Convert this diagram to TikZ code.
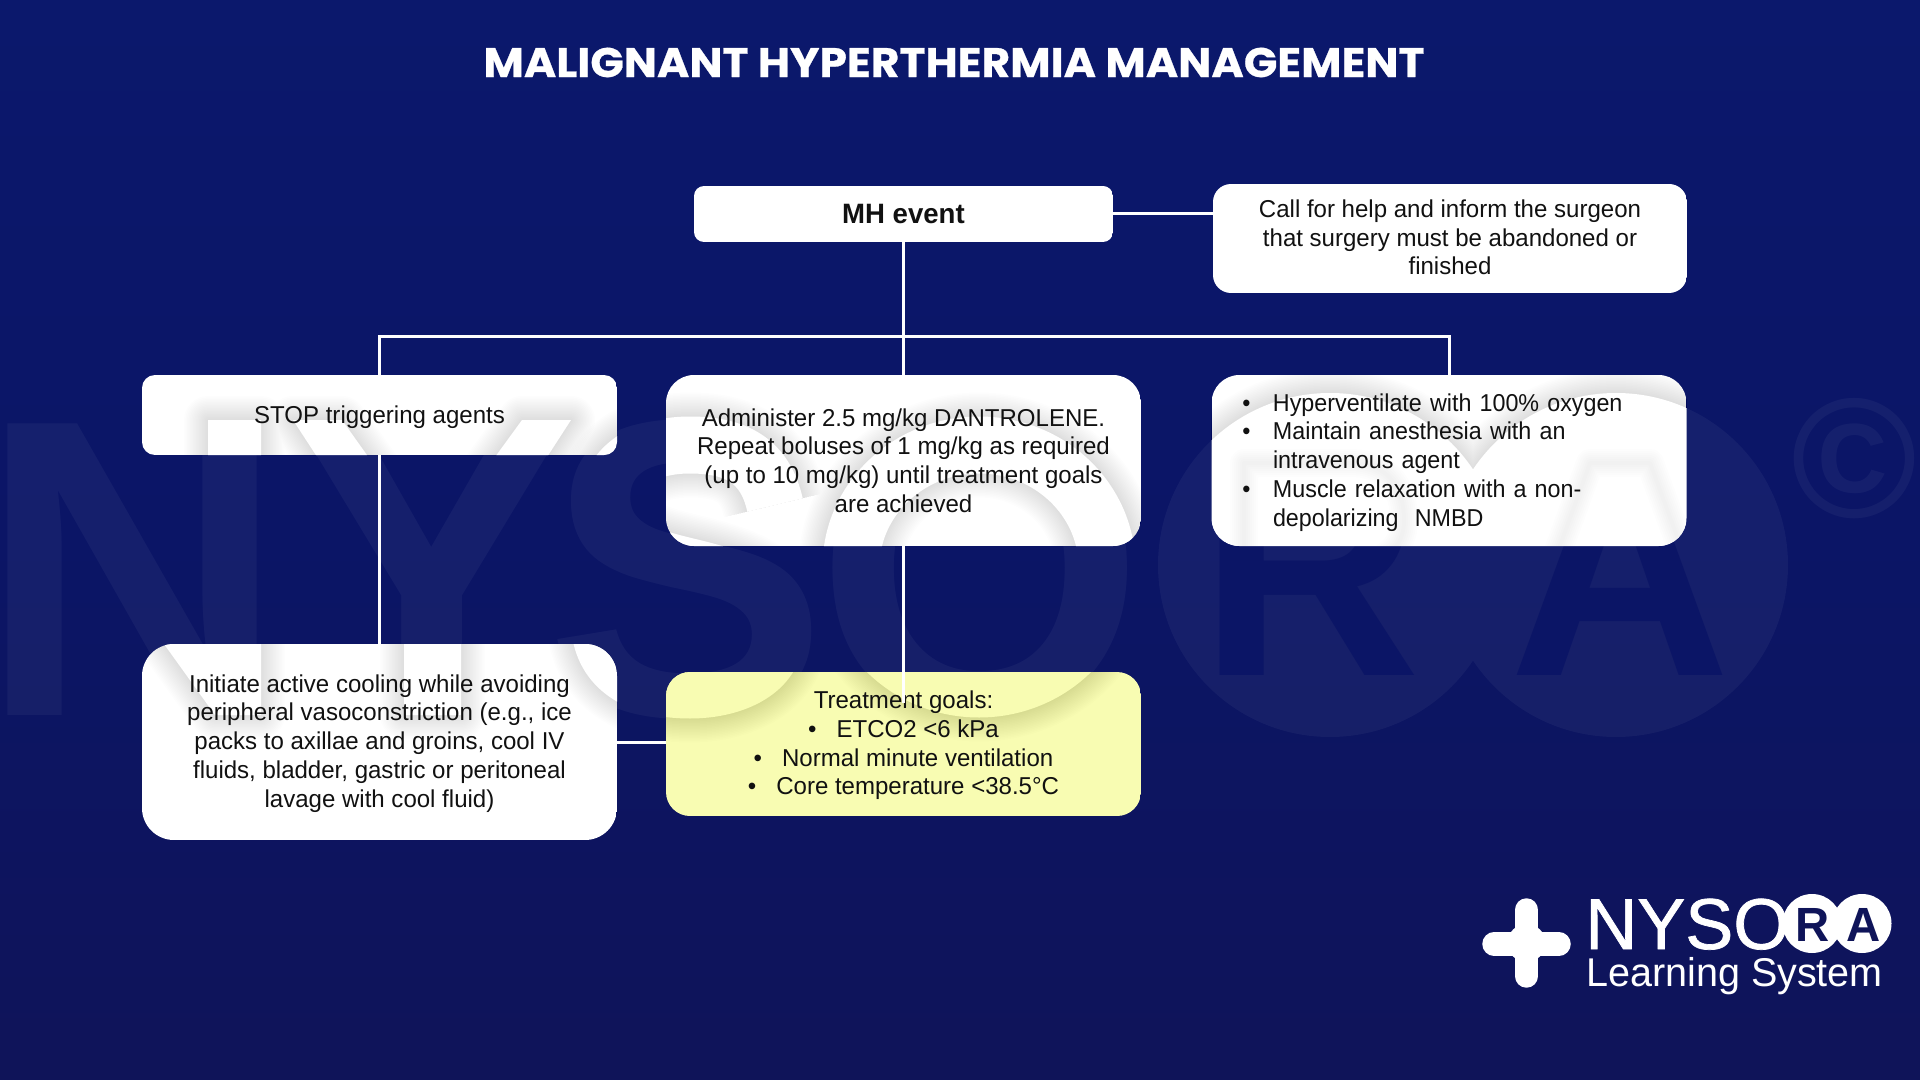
\documentclass[tikz,border=0pt]{standalone}
\usepackage{fontspec}
\setmainfont{Liberation Sans}[FakeStretch=0.985]
\newfontfamily\titlefont{Poppins}[BoldFeatures={FakeStretch=1.065,FakeBold=0.6}]
\newfontfamily\logofont{Liberation Sans}[FakeBold=1]
\newfontfamily\ventfont{Liberation Sans}[FakeStretch=0.955]
\newfontfamily\wmplain{Liberation Sans Bold}
\definecolor{bgtop}{HTML}{0B186C}
\definecolor{bgmid}{HTML}{0B1566}
\definecolor{bgbot}{HTML}{0F1459}
\definecolor{goalfill}{HTML}{F8FCB2}
\definecolor{inktext}{HTML}{111111}
\newcommand{\blt}{\makebox[23pt][l]{•}}
\newcommand{\bln}{\makebox[23pt]{}}
\newcommand{\wmshadow}[1]{%
  \foreach \w in {48,45,42,39,36,33,30,27,24,21,18,15,12,9,6,3}{%
    \draw[wmline,draw=black,opacity=.008,line width=\w*0.75pt,wmpoly];
    \draw[wmline,draw=black,opacity=.008,line width=(57+\w)*0.75pt,wmcurve];
    \draw[wmline,draw=black,opacity=.008,line width=\w*0.75pt,wmdisc];
  }%
  \fill[draw=none,fill=#1,wmpoly];
  \draw[wmline,draw=#1,line width=57*0.75pt,wmcurve];
  \fill[draw=none,fill=#1,wmdisc];
  \foreach \w in {28,24,20,16,12,8,4}{%
    \draw[wmline,draw=black,opacity=.008,line width=\w*0.75pt,wmhole];
  }%
}
% fill of a box with the soft edges of the watermark on it: centre x, centre y, width, height, radius, colour
\newcommand{\panelbg}[6]{%
  \begin{scope}
    \clip[rounded corners=#5*0.75pt] ({#1-#3/2},{#2-#4/2}) rectangle ({#1+#3/2},{#2+#4/2});
    \fill[#6] ({#1-#3/2},{#2-#4/2}) rectangle ({#1+#3/2},{#2+#4/2});
    \wmshadow{#6}
  \end{scope}%
}
\tikzset{
  x=0.75pt,y=-0.75pt,
  wmline/.style={fill=none,line join=round},
  wmpoly/.style={insert path={
    (6,420) -- (52,420) -- (208,640) -- (208,420) -- (261,420) -- (261,715) -- (215,715) -- (57,495) -- (57,715) -- (6,715) -- cycle
    (293,420) -- (342,420) -- (431,545) -- (522,420) -- (571,420) -- (461,590) -- (461,715) -- (404,715) -- (404,590) -- cycle}},
  wmcurve/.style={insert path={
    (775,505) .. controls (765,460) and (735,445) .. (690,445) .. controls (640,445) and (608,470) .. (608,505)
    .. controls (608,545) and (640,555) .. (690,567) .. controls (745,580) and (775,595) .. (775,635)
    .. controls (775,670) and (735,690) .. (690,690) .. controls (640,690) and (605,670) .. (600,630)
    (979,567) ellipse[x radius=128,y radius=122]}},
  wmdisc/.style={insert path={(1330,565) circle[radius=172] (1616,565) circle[radius=172]}},
  wmhole/.style={insert path={
    (1244,463) -- (1350,463) .. controls (1390,463) and (1404,490) .. (1404,520) .. controls (1404,550) and (1385,570) .. (1300,578) -- (1300,675) -- (1244,675) -- cycle
    (1590,463) -- (1650,463) -- (1728,675) -- (1513,675) -- cycle}},
  wmglyph/.style={inner sep=0pt,outer sep=0pt,anchor=base,text=white,text opacity=.045,
    font=\wmplain\fontsize{318}{318}\selectfont},
  wmletter/.style={wmglyph,text=bgmid,text opacity=1,font=\wmplain\fontsize{230}{230}\selectfont},
  wmcopyglyph/.style={wmglyph,font=\wmplain\fontsize{128}{128}\selectfont},
  panel/.style n args={5}{
    at={(#1,#2)},minimum width=#3*0.75pt,minimum height=#4*0.75pt,
    rounded corners=#5*0.75pt,text=inktext,align=center,inner sep=0pt,
    font=\fontsize{18.3}{21.6}\selectfont},
  conn/.style={draw=white,line width=2.25pt},
  titletext/.style={text=white,font=\titlefont\bfseries\fontsize{31}{36}\selectfont,inner sep=0pt},
  logotext/.style={text=white,inner sep=0pt,anchor=base west},
  logolabel/.style={text=bgbot,inner sep=0pt,anchor=base,font=\bfseries\fontsize{36}{36}\selectfont},
}
\begin{document}
\begin{tikzpicture}
\useasboundingbox (0,0) rectangle (1920,1080);
% background
\shade[top color=bgtop,bottom color=bgbot,middle color=bgmid] (0,0) rectangle (1920,1080);
% watermark
\node[wmglyph] (wn) at (133,715) {N};
\node[wmglyph] (wy) at (432,715) {Y};
\node[wmglyph] (ws) at (687,715) {S};
\node[wmglyph] (wo) at (980,715) {O};
\fill[white,opacity=.045] (1330,565) circle[radius=172] (1616,565) circle[radius=172];
\node[wmletter] (wr) at (1310,675) {R};
\node[wmletter] (wa) at (1620,675) {A};
\node[wmcopyglyph] (wc) at (1854,517) {©};
% title
\node[titletext] (title) at (954,62.5) {MALIGNANT HYPERTHERMIA MANAGEMENT};
% box fills
\panelbg{903.5}{214}{419}{56}{10}{white}
\panelbg{1450}{238.5}{474}{109}{18}{white}
\panelbg{379.5}{415}{475}{80}{13}{white}
\panelbg{903.5}{460.5}{475}{171}{28}{white}
\panelbg{1449}{460.5}{475}{171}{28}{white}
\panelbg{379.5}{742}{475}{196}{32}{white}
\panelbg{903.5}{744}{475}{144}{24}{goalfill}
% boxes
\node[panel={903.5}{214}{419}{56}{10},font=\bfseries\fontsize{21}{24}\selectfont] (mh) {MH event};
\node[panel={1450}{238.5}{474}{109}{18}] (call) {Call for help and inform the surgeon\\that surgery must be abandoned or\\finished\rule[-1.8pt]{0pt}{1pt}};
\node[panel={379.5}{415}{475}{80}{13}] (stop) {\rule{0pt}{16pt}STOP triggering agents};
\node[panel={903.5}{460.5}{475}{171}{28}] (dant) {Administer 2.5 mg/kg DANTROLENE.\\Repeat boluses of 1 mg/kg as required\\(up to 10 mg/kg) until treatment goals\\are achieved};
\node[panel={1449}{460.5}{475}{171}{28},align=left,text width=310pt,inner xsep=23pt,font=\ventfont\fontsize{18.3}{21.6}\selectfont] (vent) {\rule{0pt}{16pt}\blt Hyperventilate with 100\% oxygen\\\blt Maintain anesthesia with an\\\bln intravenous agent\\\blt Muscle relaxation with a non-\\\bln depolarizing~ NMBD};
\node[panel={379.5}{742}{475}{196}{32}] (cool) {\rule{0pt}{15.3pt}Initiate active cooling while avoiding\\peripheral vasoconstriction (e.g., ice\\packs to axillae and groins, cool IV\\fluids, bladder, gastric or peritoneal\\lavage with cool fluid)};
\node[panel={903.5}{744}{475}{144}{24}] (goals) {\rule{0pt}{15.3pt}Treatment goals:\\•\hspace{15pt}ETCO2 <6 kPa\\•\hspace{15pt}Normal minute ventilation\\•\hspace{15pt}Core temperature <38.5°C};
% connectors
\coordinate (bus) at (903.5,337);
\coordinate (goalsin) at (903.5,703);
\draw[conn] (mh.east) -- (mh.east -| call.west);
\draw[conn] (mh.south) -- (dant.north);
\draw[conn] (stop.north) |- (bus);
\draw[conn] (vent.north) |- (bus);
\draw[conn] (stop.south) -- (cool.north);
\draw[conn] (dant.south) -- (goalsin);
\draw[conn] (cool.east) -- (cool.east -| goals.west);
% logo
\draw[white,line width=17.6pt,line cap=round] (1526.5,910) -- (1526.5,976);
\draw[white,line width=17.6pt,line cap=round] (1494,944) -- (1559,944);
\fill[white] (1526.5,943) circle[radius=19];
\node[logotext,font=\logofont\fontsize{54}{54}\selectfont] (nyso) at (1585,949) {NYSO};
\fill[white] (1812,923.5) circle[radius=29.5] (1862,923.5) circle[radius=29.5];
\node[logolabel] (lr) at (1813,941) {R};
\node[logolabel] (la) at (1864,941) {A};
\node[logotext,font=\fontsize{30.1}{32}\selectfont] (ls) at (1586,986) {Learning System};
\end{tikzpicture}
\end{document}
